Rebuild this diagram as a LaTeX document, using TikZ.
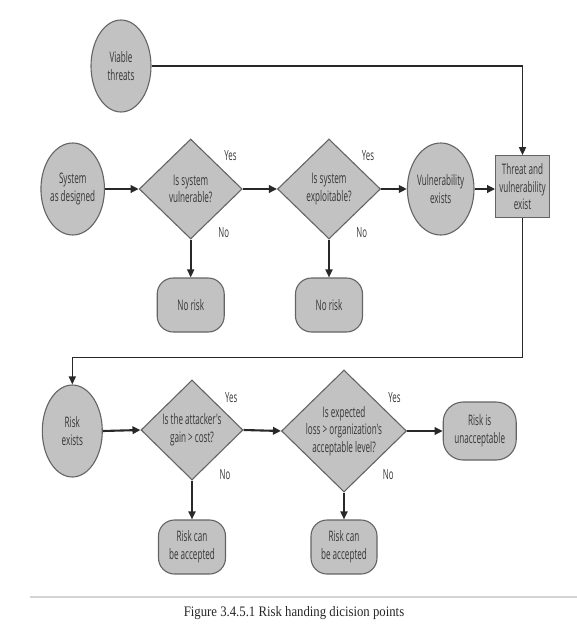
\documentclass[tikz,border=0pt]{standalone}
\usepackage{fontspec}
\usetikzlibrary{shapes.geometric,arrows.meta,calc}
\newfontfamily\dfont[FakeStretch=0.56]{Open Sans}
\newfontfamily\cfont[FakeStretch=0.88]{Liberation Serif}
\definecolor{nfill}{RGB}{194,194,194}
\definecolor{nedge}{RGB}{100,100,100}
\definecolor{ntext}{RGB}{55,55,55}
\definecolor{arr}{RGB}{40,40,40}
\definecolor{rule}{RGB}{212,212,212}
\begin{document}
\begin{tikzpicture}[x=1pt,y=-1pt,
  base/.style={fill=nfill,draw=nedge,line width=1.1pt,text=ntext,
    font=\dfont\fontsize{14.5}{17.7}\selectfont,align=center,inner sep=0pt},
  circ/.style={base,ellipse,minimum width=60pt,minimum height=92pt},
  dia/.style={base,diamond},
  rbox/.style={base,rectangle,rounded corners=16pt},
  sbox/.style={base,rectangle},
  lab/.style={text=ntext,font=\dfont\fontsize{14}{16}\selectfont,inner sep=0pt},
  arw/.style={draw=arr,line width=2.1pt,-{Triangle[length=8pt,width=7.5pt]}},
  arv/.style={draw=arr,line width=1.7pt,-{Triangle[length=8pt,width=7pt]}},
  lnk/.style={draw=arr,line width=1.5pt,-{Triangle[length=8pt,width=7pt]}}]
\useasboundingbox (0,0) rectangle (577,627);
% top row
\node[circ] (viable) at (121,66) {Viable\\threats};
\node[circ] (sys) at (72.7,189) {System\\as designed};
\node[dia,minimum width=103pt,minimum height=100pt] (d1) at (190.7,189) {Is system\\vulnerable?};
\node[dia,minimum width=103pt,minimum height=100pt] (d2) at (329,189) {Is system\\exploitable?};
\node[circ] (vuln) at (440.7,189) {Vulnerability\\exists};
\node[sbox,minimum width=53.6pt,minimum height=62pt] (box) at (522.5,186.7) {Threat and\\vulnerability\\exist};
\node[rbox,minimum width=67pt,minimum height=54pt] (nr1) at (190.7,305) {No risk};
\node[rbox,minimum width=67pt,minimum height=54pt] (nr2) at (329,305) {No risk};
% bottom row
\node[circ] (risk) at (72.3,431) {Risk\\exists};
\node[dia,minimum width=102pt,minimum height=100pt,inner sep=-3pt] (d3) at (192,430) {Is the attacker's\\gain > cost?};
\node[dia,minimum width=125pt,minimum height=122pt,inner sep=-8pt] (d4) at (344,431) {Is expected\\loss > organization's\\acceptable level?};
\node[rbox,rounded corners=20pt,minimum width=73pt,minimum height=58pt] (unacc) at (479.7,431) {Risk is\\unacceptable};
\node[rbox,minimum width=67pt,minimum height=54pt] (acc1) at (192,547) {Risk can\\be accepted};
\node[rbox,minimum width=66pt,minimum height=54pt] (acc2) at (344,547) {Risk can\\be accepted};
% labels
\node[lab] (y1) at (230.5,155.7) {Yes};
\node[lab] (n1) at (223.7,232.3) {No};
\node[lab] (y2) at (368,155.7) {Yes};
\node[lab] (n2) at (361.7,232.3) {No};
\node[lab] (y3) at (231.2,397.5) {Yes};
\node[lab] (n3) at (225,474.2) {No};
\node[lab] (y4) at (394.5,397.5) {Yes};
\node[lab] (n4) at (388.2,474.2) {No};
% connectors top
\draw[lnk] (viable.east) -| (box.north);
\draw[arw] (sys.east) -- (d1.west);
\draw[arw] (d1.east) -- (d2.west);
\draw[arw] (d2.east) -- (vuln.west);
\draw[arw] (vuln.east) -- (vuln.east -| box.west);
\draw[arv] (d1.south) -- (nr1.north);
\draw[arv] (d2.south) -- (nr2.north);
% link to bottom row
\coordinate (c1) at (522.5,357.3);
\draw[lnk] (box.south) -- (c1) -| (risk.north);
% connectors bottom
\draw[arw] (risk.east) -- (d3.west);
\draw[arw] (d3.east) -- (d4.west);
\draw[arw] (d4.east) -- (unacc.west);
\draw[arv] (d3.south) -- (acc1.north);
\draw[arv] (d4.south) -- (acc2.north);
% caption
\coordinate (r1) at (30,596.7);
\coordinate (r2) at (577,596.7);
\draw[draw=rule,line width=1.6pt] (r1) -- (r2);
\node[text=black!85,font=\cfont\fontsize{14.5}{17}\selectfont,inner sep=0pt] (cap) at (294,613) {Figure 3.4.5.1 Risk handing dicision points};
\end{tikzpicture}
\end{document}
